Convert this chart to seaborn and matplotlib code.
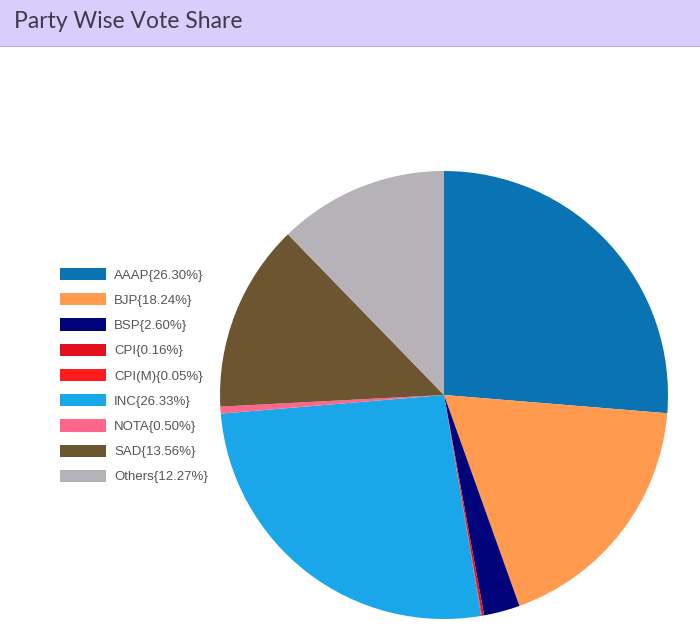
import matplotlib
matplotlib.use("Agg")
import matplotlib.pyplot as plt
import seaborn as sns
from matplotlib.patches import Rectangle

sns.set_theme(style="white")
plt.rcParams['font.family'] = ['Lato', 'DejaVu Sans']

parties = ["AAAP", "BJP", "BSP", "CPI", "CPI(M)", "INC", "NOTA", "SAD", "Others"]
shares = [26.30, 18.24, 2.60, 0.16, 0.05, 26.33, 0.50, 13.56, 12.27]
colors = ["#0a73b3", "#ff9a4f", "#01037a", "#e2101f", "#ff1c1c",
          "#19a7ea", "#ff6689", "#6e5532", "#b5b3b7"]

labels = [f"{p}{{{s:.2f}%}}" for p, s in zip(parties, shares)]

fig = plt.figure(figsize=(7, 6.4), dpi=100)
fig.patch.set_facecolor("white")

# title bar
fig.patches.append(Rectangle((0, 1 - 46 / 640), 1, 46 / 640, transform=fig.transFigure,
                             facecolor="#d9cdfb", edgecolor="none", zorder=0))
fig.patches.append(Rectangle((0, 1 - 47 / 640), 1, 1.5 / 640, transform=fig.transFigure,
                             facecolor="#bfb3dd", edgecolor="none", zorder=0))
fig.text(14 / 700, 1 - 22 / 640, "Party Wise Vote Share", fontsize=16.5,
         color="#3d3a4a", va="center", ha="left")

ax = fig.add_axes([220 / 700, 21 / 640, 448 / 700, 448 / 640])
wedges, _ = ax.pie(shares, colors=colors, startangle=90, counterclock=False,
                   wedgeprops=dict(linewidth=0))
ax.set_xlim(-1.0, 1.0)
ax.set_ylim(-1.0, 1.0)
ax.set_aspect("equal")
ax.axis("off")

fig.legend(wedges, labels, loc="upper left",
           bbox_to_anchor=(60 / 700, 1 - 268 / 640), frameon=False,
           prop={"family": ["Liberation Sans", "DejaVu Sans"], "size": 9.5},
           handlelength=3.5, handleheight=1.05, labelspacing=0.88,
           handletextpad=0.6, borderpad=0, borderaxespad=0, labelcolor="#555555")

fig.savefig("out.png", dpi=100)
